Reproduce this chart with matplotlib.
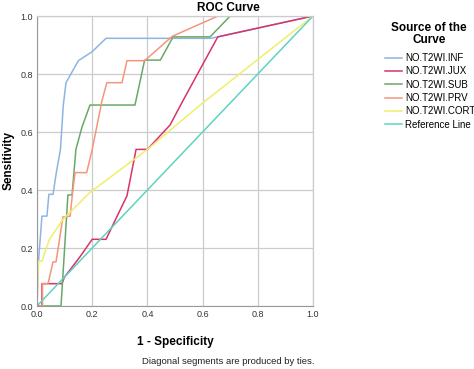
import matplotlib.pyplot as plt

# ROC curves (1 - specificity, sensitivity)
inf_x = [0, 0.005, 0.018, 0.036, 0.043, 0.058, 0.07, 0.085, 0.095, 0.105, 0.15, 0.2, 0.25, 0.63, 1.0]
inf_y = [0, 0.15, 0.31, 0.31, 0.385, 0.385, 0.46, 0.54, 0.69, 0.77, 0.846, 0.877, 0.923, 0.923, 1.0]

jux_x = [0, 0.018, 0.018, 0.09, 0.1, 0.156, 0.2, 0.25, 0.326, 0.359, 0.4, 0.482, 0.53, 0.655, 1.0]
jux_y = [0, 0, 0.077, 0.077, 0.1, 0.17, 0.23, 0.23, 0.38, 0.54, 0.54, 0.624, 0.71, 0.928, 1.0]

sub_x = [0, 0.087, 0.112, 0.127, 0.141, 0.163, 0.192, 0.355, 0.39, 0.447, 0.493, 0.627, 0.70, 1.0]
sub_y = [0, 0, 0.383, 0.383, 0.54, 0.617, 0.693, 0.693, 0.848, 0.848, 0.928, 0.928, 1.0, 1.0]

prv_x = [0, 0.02, 0.02, 0.04, 0.058, 0.069, 0.094, 0.12, 0.13, 0.138, 0.18, 0.2, 0.236, 0.253, 0.308, 0.326, 0.39, 0.49, 0.656, 1.0]
prv_y = [0, 0, 0.077, 0.077, 0.152, 0.152, 0.307, 0.31, 0.4, 0.46, 0.46, 0.54, 0.71, 0.77, 0.77, 0.846, 0.846, 0.93, 1.0, 1.0]

cort_x = [0, 0.005, 0.018, 0.045, 0.095, 0.19, 0.4, 0.6, 1.0]
cort_y = [0, 0.155, 0.155, 0.23, 0.3, 0.39, 0.54, 0.70, 1.0]

ref_x = [0, 1]
ref_y = [0, 1]

labels = ["NO.T2WI.INF", "NO.T2WI.JUX", "NO.T2WI.SUB", "NO.T2WI.PRV", "NO.T2WI.CORT", "Reference Line"]
colors = ["#8db4e2", "#d8336a", "#6aa86a", "#f5957a", "#f0ee6a", "#5ed3c2"]
ticks = [0.0, 0.2, 0.4, 0.6, 0.8, 1.0]

plt.rcParams['font.family'] = ['Liberation Sans', 'DejaVu Sans']

W, H = 474, 369
fig = plt.figure(figsize=(W / 100, H / 100), dpi=100)
ax = fig.add_axes([37 / W, 1 - 306 / H, 276 / W, 290 / H])

series = [(inf_x, inf_y), (jux_x, jux_y), (sub_x, sub_y), (prv_x, prv_y), (cort_x, cort_y), (ref_x, ref_y)]
for (xs, ys), lab, c in zip(series, labels, colors):
    ax.plot(xs, ys, color=c, lw=1.1, label=lab)

ax.set_xlim(0, 1)
ax.set_ylim(0, 1)
ax.set_xticks(ticks)
ax.set_yticks(ticks)
ax.set_xticklabels([f"{t:.1f}" for t in ticks])
ax.set_yticklabels([f"{t:.1f}" for t in ticks])
ax.tick_params(length=0, labelsize=6.5, colors="#333333", pad=3)
ax.grid(True, color="#cccccc", lw=0.9)
ax.set_axisbelow(True)
for s in ["top", "right"]:
    ax.spines[s].set_color("#cccccc")
    ax.spines[s].set_linewidth(0.9)
for s in ["left", "bottom"]:
    ax.spines[s].set_color("#999999")

ax.set_xlabel("1 - Specificity", fontsize=8.5, fontweight="bold", labelpad=12)
ax.set_ylabel("Sensitivity", fontsize=8.5, fontweight="bold")
ax.yaxis.set_label_coords(-0.082, 0.5)

fig.text(228 / W, 1 - 8 / H, "ROC Curve", fontsize=8.5, fontweight="bold", ha="center", va="center")
fig.text(142 / W, 1 - 362 / H, "Diagonal segments are produced by ties.", fontsize=6.8,
         color="#222222", va="center")

fig.text(429 / W, 1 - 34 / H, "Source of the\nCurve", fontsize=8.5, fontweight="bold",
         ha="center", va="center", linespacing=1.0)

leg = fig.legend(loc="upper left", bbox_to_anchor=(385 / W, 1 - 53 / H), frameon=False,
                 fontsize=7, handlelength=1.7, handletextpad=0.35, labelspacing=0.34,
                 borderpad=0, borderaxespad=0)

fig.savefig("out.png", dpi=100)
